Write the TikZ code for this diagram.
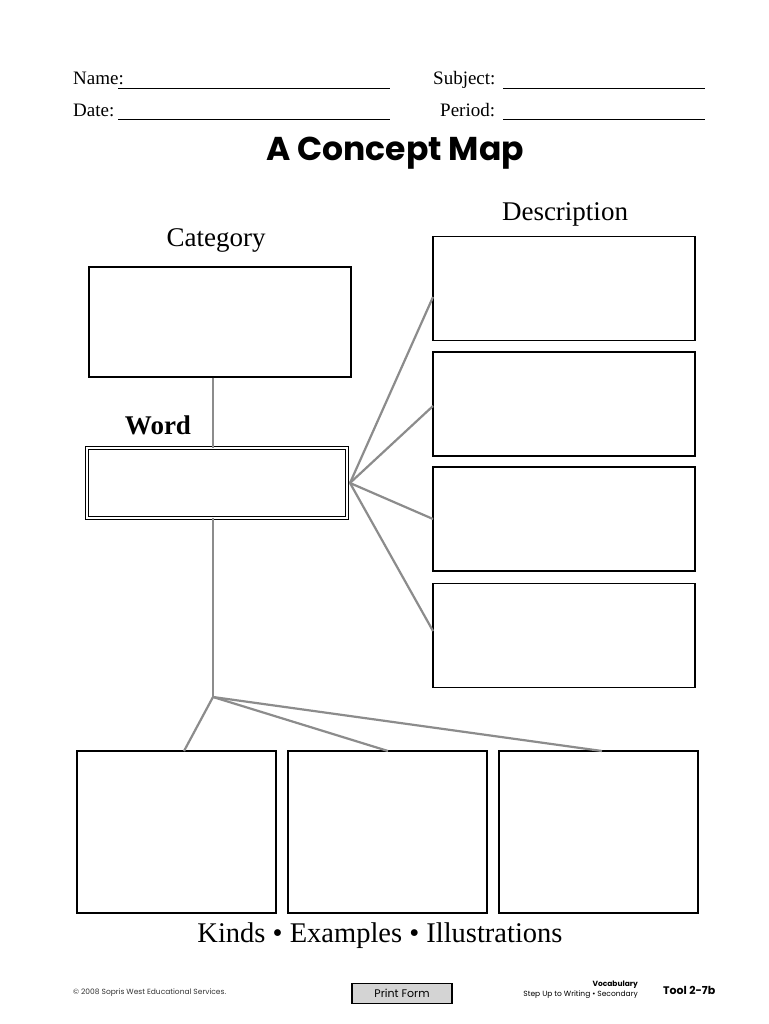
\documentclass[tikz,border=0pt]{standalone}
\usepackage{fontspec}
\setmainfont{Liberation Serif}
\newfontfamily\pop{Poppins}
\begin{document}
\begin{tikzpicture}[x=1pt,y=-1pt,
  box/.style={draw=black,line width=1.3pt},
  conn/.style={draw=black!45,line width=2.2pt},
  lbl/.style={inner sep=0pt,font=\fontsize{19}{19}\selectfont},
  head/.style={inner sep=0pt,font=\fontsize{27}{27}\selectfont},
  rule/.style={draw=black,line width=0.8pt}]
\useasboundingbox[fill=white] (0,0) rectangle (768,1024);
% header
\node[lbl,anchor=base west] (nm) at (73,85) {Name:};
\draw[rule] (118,88) coordinate (n1) -- (390,88) coordinate (n2);
\node[lbl,anchor=base west] (sb) at (433,85) {Subject:};
\draw[rule] (503,88) coordinate (s1) -- (705,88) coordinate (s2);
\node[lbl,anchor=base west] (dt) at (73,117) {Date:};
\draw[rule] (118,119) coordinate (d1) -- (390,119) coordinate (d2);
\node[lbl,anchor=base west] (pd) at (440,117) {Period:};
\draw[rule] (503,119) coordinate (p1) -- (705,119) coordinate (p2);
\node[inner sep=0pt,font=\bfseries\fontsize{33}{33}\selectfont\pop,anchor=base] (title) at (395,161) {A Concept Map};
% labels
\node[head,anchor=base] (cat) at (216,246) {Category};
\node[head,anchor=base] (desc) at (565,221) {Description};
\node[head,anchor=base,font=\bfseries\fontsize{27}{27}\selectfont] (wl) at (158,434) {Word};
% boxes
\node[box,minimum width=262,minimum height=110,inner sep=0pt] (cb) at (220,322) {};
\node[draw=black,double,double distance=2pt,line width=0.9pt,minimum width=260,minimum height=70,inner sep=0pt] (wb) at (217,483) {};
\foreach \n/\y in {1/288.5,2/404,3/519,4/635.5}
  \node[box,minimum width=262,minimum height=104,inner sep=0pt] (r\n) at (564,\y) {};
\foreach \n/\x in {1/176.5,2/387.5,3/598.5}
  \node[box,minimum width=199,minimum height=162,inner sep=0pt] (b\n) at (\x,832) {};
% connectors
\coordinate (hub) at (213,697);
\coordinate (wr) at (350,483);
\draw[conn] (cb.south -| hub) -- (wb.north -| hub);
\draw[conn] (wb.south -| hub) -- (hub);
\draw[conn] (wr) -- (433,297);
\draw[conn] (wr) -- (433,406);
\draw[conn] (wr) -- (433,519);
\draw[conn] (wr) -- (433,631);
\draw[conn] (hub) -- (184,751);
\draw[conn] (hub) -- (388,751);
\draw[conn] (hub) -- (602,751);
\node[inner sep=0pt,anchor=base,font=\fontsize{28.5}{28.5}\selectfont] (kinds) at (380,942) {Kinds • Examples • Illustrations};
% footer
\node[inner sep=0pt,anchor=base west,font=\fontsize{7.5}{8}\selectfont\pop,text=black!80] (cp) at (73,994) {© 2008 Sopris West Educational Services.};
\node[draw=black,line width=1.8pt,fill=black!17,minimum width=100,minimum height=20,inner sep=0pt,font=\fontsize{11}{11}\selectfont\pop] (pf) at (402,993.5) {Print Form};
\node[inner sep=0pt,anchor=base east,font=\bfseries\fontsize{7.5}{8}\selectfont\pop] (voc) at (638,986) {Vocabulary};
\node[inner sep=0pt,anchor=base east,font=\fontsize{7.5}{8}\selectfont\pop] (su) at (638,996) {Step Up to Writing • Secondary};
\node[inner sep=0pt,anchor=base west,font=\bfseries\fontsize{11}{11}\selectfont\pop] (tool) at (663,994) {Tool 2-7b};
\end{tikzpicture}
\end{document}
